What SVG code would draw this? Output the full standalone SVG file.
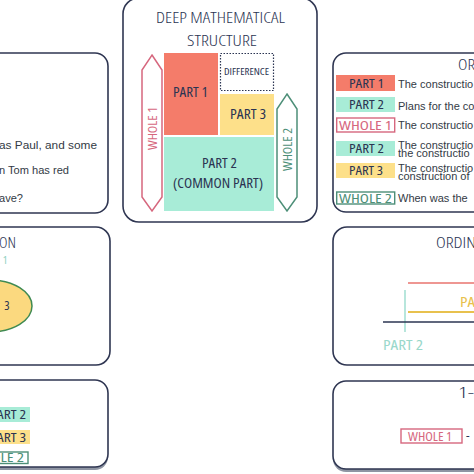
<svg xmlns="http://www.w3.org/2000/svg" width="474" height="474" viewBox="0 0 474 474">
<style>
.panel{fill:#ffffff;stroke:#2f3652;stroke-width:1.6}
.shadow{fill:#8f95a3}
.cond{font-family:"Open Sans","DejaVu Sans",sans-serif;font-stretch:75%;font-weight:400}
.title{font-size:15px;fill:#2b3452;font-weight:300}
.lbl{font-size:12.5px}
.body{font-family:"Liberation Sans",Arial,sans-serif;font-size:11px;fill:#333a45}
.navy{fill:#2b3452}
.pinkT{fill:#d6677e}
.tealT{fill:#4d8f78}
.salmon{fill:#f47c6a}
.mint{fill:#a8ecd7}
.yellow{fill:#fde08a}
.wbox{fill:#ffffff;stroke-width:1.4}
</style>

<g id="panel-top-left">
<rect class="panel" x="-20" y="53" width="128" height="160" rx="13"/>
<text class="body" x="-1" y="149" textLength="98" lengthAdjust="spacingAndGlyphs">as Paul, and some</text>
<text class="body" x="-1" y="174" textLength="70" lengthAdjust="spacingAndGlyphs">n Tom has red</text>
<text class="body" x="-1" y="202" textLength="24" lengthAdjust="spacingAndGlyphs">ave?</text>
</g>

<g id="panel-deep-structure">
<rect class="panel" x="123" y="-2" width="194" height="224" rx="16"/>
<text class="cond title" x="156" y="23" textLength="129" lengthAdjust="spacingAndGlyphs">DEEP MATHEMATICAL</text>
<text class="cond title" x="187" y="46" textLength="70" lengthAdjust="spacingAndGlyphs">STRUCTURE</text>
<g id="part1"><rect class="salmon" x="164" y="53" width="54" height="82"/>
<text class="cond navy" x="173" y="97" font-size="14" textLength="35" lengthAdjust="spacingAndGlyphs">PART 1</text></g>
<g id="difference"><rect x="220.5" y="53.5" width="53" height="37" fill="#ffffff" stroke="#2b3452" stroke-width="1.2" stroke-dasharray="1.5 1.5"/>
<text class="cond navy" x="224" y="75" font-size="8.5" font-weight="700" textLength="45" lengthAdjust="spacingAndGlyphs">DIFFERENCE</text></g>
<g id="part3"><rect class="yellow" x="220" y="94" width="54" height="41"/>
<text class="cond navy" x="230" y="119" font-size="14" textLength="36" lengthAdjust="spacingAndGlyphs">PART 3</text></g>
<g id="part2"><rect class="mint" x="164" y="137" width="110" height="74"/>
<text class="cond navy" x="202" y="168" font-size="14" textLength="35" lengthAdjust="spacingAndGlyphs">PART 2</text>
<text class="cond navy" x="173" y="188" font-size="14" textLength="90" lengthAdjust="spacingAndGlyphs">(COMMON PART)</text></g>
<g id="whole1"><path d="M152 55 L162 70 L162 197 L152 211 L142 197 L142 70 Z" fill="#ffffff" stroke="#d6677e" stroke-width="1.5"/>
<text class="cond pinkT" transform="translate(157,150) rotate(-90)" font-size="13" textLength="43" lengthAdjust="spacingAndGlyphs">WHOLE 1</text></g>
<g id="whole2"><path d="M287 94 L297 109 L297 197 L287 211 L277 197 L277 109 Z" fill="#ffffff" stroke="#4d8f78" stroke-width="1.5"/>
<text class="cond tealT" transform="translate(292,171) rotate(-90)" font-size="13" textLength="43" lengthAdjust="spacingAndGlyphs">WHOLE 2</text></g>
</g>

<g id="panel-top-right">
<rect class="panel" x="333" y="53" width="160" height="159" rx="13"/>
<text class="cond title" x="458" y="70" textLength="17" lengthAdjust="spacingAndGlyphs">OR</text>
<rect class="salmon" x="336" y="75" width="59" height="16"/>
<text class="cond lbl navy" x="349" y="87.5" textLength="35" lengthAdjust="spacingAndGlyphs">PART 1</text>
<text class="body" x="398" y="88">The constructio</text>
<rect class="mint" x="336" y="97" width="59" height="15"/>
<text class="cond lbl navy" x="349" y="109" textLength="35" lengthAdjust="spacingAndGlyphs">PART 2</text>
<text class="body" x="398" y="109.5">Plans for the co</text>
<rect class="wbox" x="336.7" y="118" width="58" height="14" stroke="#d6677e"/>
<text class="cond lbl pinkT" x="339" y="129.5" textLength="53" lengthAdjust="spacingAndGlyphs">WHOLE 1</text>
<text class="body" x="398" y="129">The constructio</text>
<rect class="mint" x="336" y="141" width="59" height="15"/>
<text class="cond lbl navy" x="349" y="153" textLength="35" lengthAdjust="spacingAndGlyphs">PART 2</text>
<text class="body" x="398" y="149" font-size="10.5">The constructio</text>
<text class="body" x="398" y="157" font-size="10.5">the constructio</text>
<rect class="yellow" x="336" y="163" width="59" height="15"/>
<text class="cond lbl navy" x="349" y="175" textLength="34" lengthAdjust="spacingAndGlyphs">PART 3</text>
<text class="body" x="398" y="171.5" font-size="10.5">The constructio</text>
<text class="body" x="398" y="179.5" font-size="10.5">construction of</text>
<rect class="wbox" x="336.7" y="192" width="58" height="12" stroke="#4d8f78"/>
<text class="cond lbl tealT" x="339" y="202.5" textLength="53" lengthAdjust="spacingAndGlyphs">WHOLE 2</text>
<text class="body" x="398" y="202">When was the</text>
</g>

<g id="panel-mid-left">
<rect class="panel" x="-20" y="227" width="130" height="138" rx="14"/>
<text class="cond title" x="-1" y="248" textLength="17" lengthAdjust="spacingAndGlyphs">ON</text>
<text class="cond" x="5" y="263.5" text-anchor="middle" font-size="11" fill="#8fcfc0">1</text>
<ellipse cx="-10" cy="306" rx="42" ry="26" fill="#fbd97f" stroke="#3f8a52" stroke-width="1.5"/>
<text class="cond navy" x="7" y="310" text-anchor="middle" font-size="12.5">3</text>
</g>

<g id="panel-mid-right">
<rect class="panel" x="333" y="227" width="160" height="138" rx="14"/>
<text class="cond title" x="436" y="248" textLength="40" lengthAdjust="spacingAndGlyphs">ORDIN</text>
<line x1="408" y1="283" x2="474" y2="283" stroke="#e8736e" stroke-width="1.6"/>
<line x1="405" y1="290" x2="405" y2="332" stroke="#a6e0d4" stroke-width="1.6"/>
<text class="cond" x="460" y="307" font-size="14" fill="#e8c14d" textLength="15" lengthAdjust="spacingAndGlyphs">PA</text>
<line x1="408" y1="312" x2="474" y2="312" stroke="#e8c14d" stroke-width="1.8"/>
<line x1="383" y1="322" x2="474" y2="322" stroke="#2b3452" stroke-width="1.6"/>
<text class="cond" x="383" y="350" font-size="14" fill="#9ad8cb" textLength="40" lengthAdjust="spacingAndGlyphs">PART 2</text>
</g>

<g id="panel-bottom-left">
<rect class="shadow" x="-20" y="382" width="128" height="88" rx="13"/>
<rect class="panel" x="-20" y="380" width="128" height="87" rx="13"/>
<rect class="mint" x="-40" y="407" width="70" height="15"/>
<text class="cond lbl navy" x="-10" y="419" textLength="36" lengthAdjust="spacingAndGlyphs">PART 2</text>
<rect class="yellow" x="-40" y="430" width="70" height="14"/>
<text class="cond lbl navy" x="-10" y="441.5" textLength="36" lengthAdjust="spacingAndGlyphs">PART 3</text>
<rect class="wbox" x="-40" y="452" width="68" height="11.5" stroke="#4d8f78"/>
<text class="cond lbl tealT" x="-30" y="462" textLength="54" lengthAdjust="spacingAndGlyphs">WHOLE 2</text>
</g>

<g id="panel-bottom-right">
<rect class="shadow" x="333" y="383" width="160" height="89" rx="13"/>
<rect class="panel" x="333" y="381" width="160" height="88" rx="13"/>
<text class="cond title" x="458" y="398" textLength="16" lengthAdjust="spacingAndGlyphs">1-</text>
<rect class="wbox" x="401" y="429" width="61" height="14" stroke="#d6677e"/>
<text class="cond lbl pinkT" x="408" y="440.5" textLength="44" lengthAdjust="spacingAndGlyphs">WHOLE 1</text>
<text class="cond navy" x="466" y="440" font-size="13">-</text>
</g>

<g id="connectors"></g>
</svg>
